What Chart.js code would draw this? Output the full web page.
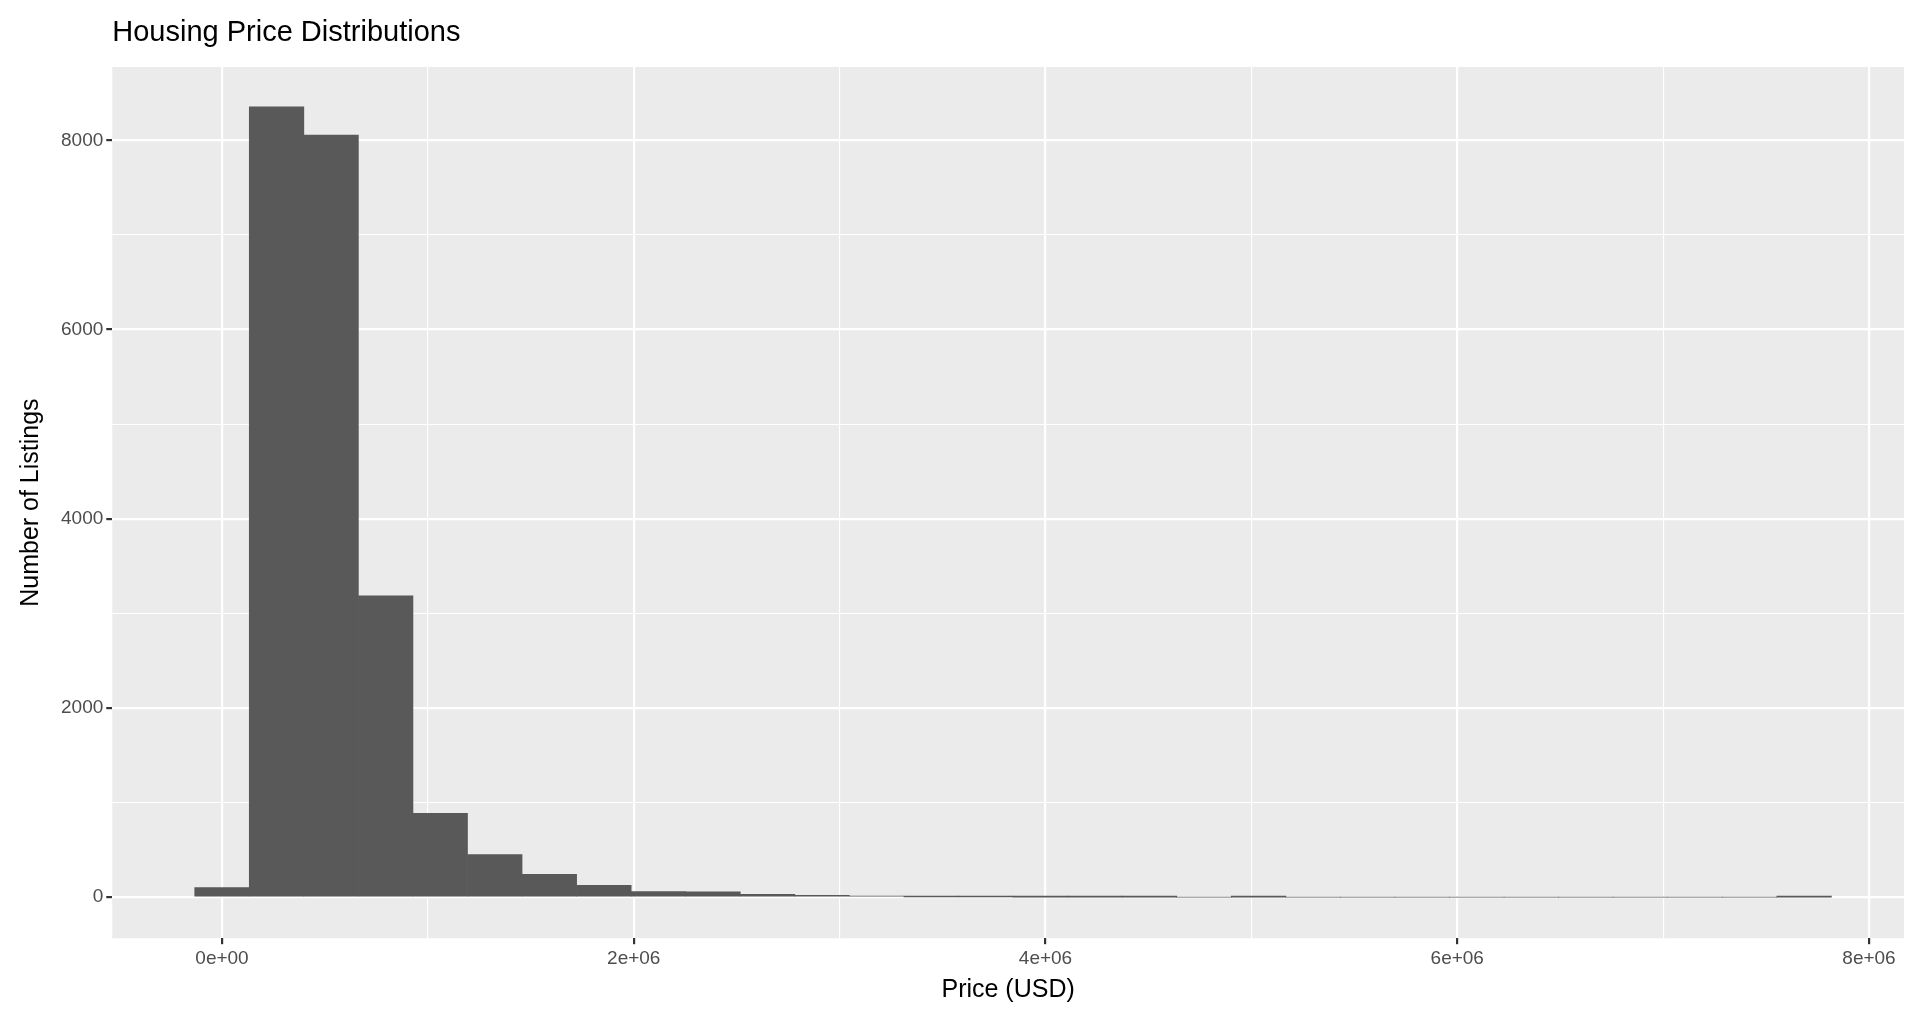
<!DOCTYPE html>
<html>
<head>
<meta charset="utf-8">
<script src="https://cdn.jsdelivr.net/npm/chart.js@4"></script>
<style>
  body { margin:0; background:#fff; }
  #wrap { width:1920px; height:1017px; }
</style>
</head>
<body>
<div id="wrap"><canvas id="hist"></canvas></div>
<script>
// bin centres (USD) and counts
var binCentres = [0,265000,530000,795000,1060000,1325000,1590000,1855000,2120000,2385000,
  2650000,2915000,3180000,3445000,3710000,3975000,4240000,4505000,4770000,5035000,
  5300000,5565000,5830000,6095000,6360000,6625000,6890000,7155000,7420000,7685000];
var counts = [100,8355,8055,3185,885,450,240,125,60,55,
  30,20,12,3,2,1,1,1,0,1,
  0,0,0,0,0,0,0,0,0,1];
var xTicks = [0,1e6,2e6,3e6,4e6,5e6,6e6,7e6,8e6];
var yTicks = [0,1000,2000,3000,4000,5000,6000,7000,8000];

function sci(v){
  if (v === 0) return "0e+00";
  var e = Math.floor(Math.log10(v));
  return (v/Math.pow(10,e)) + "e+" + (e<10?"0":"") + e;
}

var panelBg = {
  id: "panelBg",
  beforeDraw: function(chart){
    var a = chart.chartArea, c = chart.ctx;
    c.save(); c.fillStyle = "#EBEBEB";
    c.fillRect(a.left, a.top, a.right-a.left, a.bottom-a.top);
    c.fillStyle = "#000"; c.font = "29px Arial, 'Liberation Sans'";
    c.textBaseline = "alphabetic";
    c.fillText("Housing Price Distributions", a.left, 41);
    c.restore();
  }
};

var isMajorX = function(ctx){ return ctx.tick && ctx.tick.value % 2e6 === 0; };
var isMajorY = function(ctx){ return ctx.tick && ctx.tick.value % 2000 === 0; };

new Chart(document.getElementById("hist"), {
  type: "bar",
  data: {
    datasets: [{
      data: binCentres.map(function(x,i){ return {x:x, y:counts[i]}; }),
      backgroundColor: "#595959",
      borderWidth: 0,
      barPercentage: 1.0,
      categoryPercentage: 1.0
    }]
  },
  plugins: [panelBg],
  options: {
    responsive: true, maintainAspectRatio: false, animation: false,
    layout: { padding: { left: 12, right: 16, top: 67, bottom: 8 } },
    plugins: { legend: { display: false }, tooltip: { enabled: false } },
    scales: {
      x: {
        type: "linear", offset: false,
        min: -533000, max: 8170000,
        afterBuildTicks: function(s){ s.ticks = xTicks.map(function(v){ return {value:v}; }); },
        ticks: { color: "#4D4D4D", font: { family: "Arial, Liberation Sans", size: 19 }, maxRotation: 0, autoSkip: false,
          callback: function(v){ return v % 2e6 === 0 ? sci(v) : ""; } },
        grid: { offset: false, color: "#fff", lineWidth: function(c){ return isMajorX(c) ? 2.2 : 1.1; },
          tickColor: function(c){ return isMajorX(c) ? "#333" : "rgba(0,0,0,0)"; }, tickLength: 6 },
        border: { display: false },
        title: { display: true, text: "Price (USD)", color: "#000",
          font: { family: "Arial, Liberation Sans", size: 25 }, padding: { top: 2 } }
      },
      y: {
        min: -434, max: 8776,
        afterBuildTicks: function(s){ s.ticks = yTicks.map(function(v){ return {value:v}; }); },
        ticks: { color: "#4D4D4D", font: { family: "Arial, Liberation Sans", size: 19 },
          callback: function(v){ return v % 2000 === 0 ? v : ""; } },
        grid: { color: "#fff", lineWidth: function(c){ return isMajorY(c) ? 2.2 : 1.1; },
          tickColor: function(c){ return isMajorY(c) ? "#333" : "rgba(0,0,0,0)"; }, tickLength: 6 },
        border: { display: false },
        title: { display: true, text: "Number of Listings", color: "#000",
          font: { family: "Arial, Liberation Sans", size: 25 }, padding: { bottom: 12 } }
      }
    }
  }
});
</script>
</body>
</html>
